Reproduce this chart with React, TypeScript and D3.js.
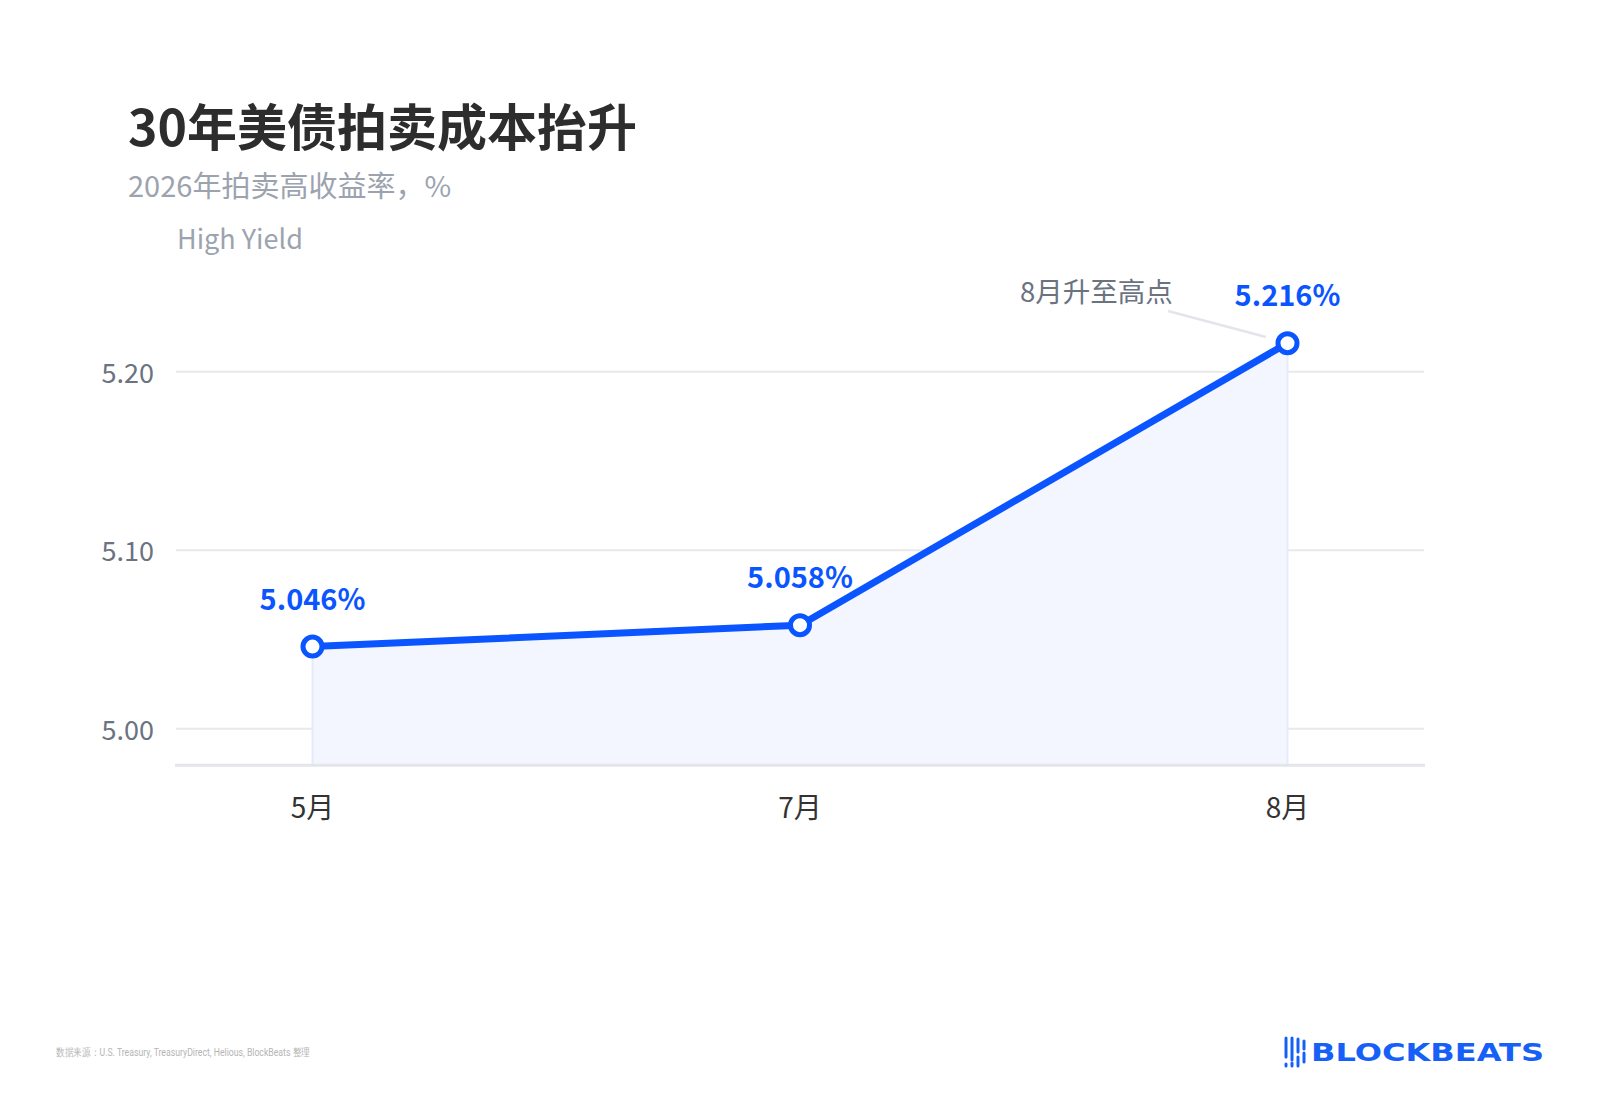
import * as d3 from 'd3';

const months = ['5月', '7月', '8月'];
const highYield = [5.046, 5.058, 5.216];
const yTicks = [5.0, 5.1, 5.2];
const valueLabels = ['5.046%', '5.058%', '5.216%'];

const W = 1600;
const H = 1105;
const BLUE = '#0a55ff';
const FONT = '"Noto Sans CJK SC", "Noto Sans", sans-serif';

const x = d3.scalePoint<string>().domain(months).range([176, 1424]).padding(0.28);
const y = d3.scaleLinear().domain([5.0, 5.2]).range([728.7, 371.7]);
const yBase = y(4.9795);

const pts = months.map((m, i) => ({ m, v: highYield[i], lbl: valueLabels[i] }));

const line = d3
  .line<(typeof pts)[number]>()
  .x((d) => x(d.m)!)
  .y((d) => y(d.v));

const area = d3
  .area<(typeof pts)[number]>()
  .x((d) => x(d.m)!)
  .y0(yBase)
  .y1((d) => y(d.v));

// logo icon bars: [col x, y top, y bottom]
const logoBars = [
  [1286, 1038, 1057],
  [1286, 1064, 1066],
  [1292, 1038, 1060],
  [1292, 1063, 1066],
  [1298, 1039, 1052],
  [1298, 1057, 1066],
  [1304, 1041, 1049],
  [1304, 1053, 1062],
];

export default function App() {
  const first = pts[0];
  const last = pts[pts.length - 1];
  return (
    <svg
      width={W}
      height={H}
      style={{ position: 'absolute', left: 0, top: 0, background: '#fff' }}
      fontFamily={FONT}
    >
      <rect width={W} height={H} fill="#fff" />

      {/* titles */}
      <text x={128} y={146} fontSize={50} fontWeight={700} fill="#2d2d2d">
        30年美债拍卖成本抬升
      </text>
      <text x={128} y={197} fontSize={29} fill="#9ca3af">
        2026年拍卖高收益率，%
      </text>
      <text x={177} y={249} fontSize={27} fill="#9ca3af">
        High Yield
      </text>

      {/* grid */}
      {yTicks.map((t) => (
        <g key={t}>
          <line x1={176} x2={1424} y1={y(t)} y2={y(t)} stroke="#e6e8ec" strokeWidth={2} />
          <text x={154} y={y(t) + 11} textAnchor="end" fontSize={27} fill="#6b7280">
            {t.toFixed(2)}
          </text>
        </g>
      ))}

      {/* area */}
      <path d={area(pts) ?? ''} fill="#f3f6fe" />
      <line x1={x(first.m)} x2={x(first.m)} y1={y(first.v)} y2={yBase} stroke="#e6ebfb" strokeWidth={2} />
      <line x1={x(last.m)} x2={x(last.m)} y1={y(last.v)} y2={yBase} stroke="#e6ebfb" strokeWidth={2} />

      {/* baseline */}
      <line x1={175} x2={1425} y1={yBase} y2={yBase} stroke="#e3e5ea" strokeWidth={3} />

      {/* x labels */}
      {months.map((m) => (
        <text key={m} x={x(m)} y={818} textAnchor="middle" fontSize={28} fill="#333">
          {m}
        </text>
      ))}

      {/* annotation */}
      <line x1={1168} y1={311} x2={1266} y2={337} stroke="#e3e5ea" strokeWidth={2.5} />
      <text x={1020} y={302} fontSize={27.5} fill="#6b7280">
        8月升至高点
      </text>

      {/* line */}
      <path d={line(pts) ?? ''} fill="none" stroke={BLUE} strokeWidth={7} strokeLinejoin="round" />
      {pts.map((p) => (
        <g key={p.m}>
          <circle cx={x(p.m)} cy={y(p.v)} r={9.5} fill="#fff" stroke={BLUE} strokeWidth={5} />
          <text
            x={x(p.m)}
            y={y(p.v) - 37}
            textAnchor="middle"
            fontSize={29}
            fontWeight={700}
            fill={BLUE}
          >
            {p.lbl}
          </text>
        </g>
      ))}

      {/* footer */}
      <text
        x={56}
        y={1056}
        fontSize={11}
        fill="#b5b5b5"
        fontFamily="Roboto, sans-serif"
        textLength={254}
        lengthAdjust="spacingAndGlyphs"
      >
        数据来源：U.S. Treasury, TreasuryDirect, Helious, BlockBeats 整理
      </text>

      {/* logo */}
      {logoBars.map(([bx, y1, y2], i) => (
        <line key={i} x1={bx} x2={bx} y1={y1} y2={y2} stroke="#1660f8" strokeWidth={3} strokeLinecap="round" />
      ))}
      <text
        x={1311}
        y={1061}
        fontSize={25}
        fontWeight={700}
        fill="#1660f8"
        fontFamily='"DejaVu Sans", sans-serif'
        textLength={233}
        lengthAdjust="spacingAndGlyphs"
      >
        BLOCKBEATS
      </text>
    </svg>
  );
}
